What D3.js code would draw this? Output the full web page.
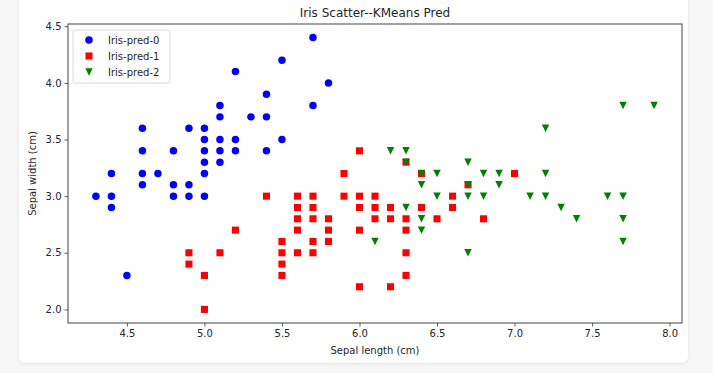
<html>
<head>
<script src="https://d3js.org/d3.v7.min.js"></script>
<style>
body { margin: 0; background: #f6f6f6; }
text { font-family: "DejaVu Sans", sans-serif; fill: #262626; }
</style>
</head>
<body>
<script>

// sepal length / sepal width, one pair per visible marker
var pred0X = [4.3,4.4,4.4,4.4,4.5,4.6,4.6,4.6,4.6,4.7,4.8,4.8,4.8,4.9,4.9,4.9,5.0,5.0,5.0,5.0,5.0,5.0,5.1,5.1,5.1,5.1,5.1,5.2,5.2,5.2,5.3,5.4,5.4,5.4,5.5,5.5,5.7,5.7,5.8];
var pred0Y = [3.0,2.9,3.0,3.2,2.3,3.1,3.2,3.4,3.6,3.2,3.0,3.1,3.4,3.0,3.1,3.6,3.0,3.2,3.3,3.4,3.5,3.6,3.3,3.4,3.5,3.7,3.8,3.4,3.5,4.1,3.7,3.4,3.7,3.9,3.5,4.2,3.8,4.4,4.0];

var pred1X = [4.9,4.9,5.0,5.0,5.1,5.2,5.4,5.5,5.5,5.5,5.5,5.6,5.6,5.6,5.6,5.6,5.7,5.7,5.7,5.7,5.7,5.8,5.8,5.8,5.9,5.9,6.0,6.0,6.0,6.0,6.0,6.1,6.1,6.1,6.2,6.2,6.2,6.3,6.3,6.3,6.3,6.3,6.4,6.4,6.5,6.6,6.6,6.7,6.8,7.0];
var pred1Y = [2.4,2.5,2.0,2.3,2.5,2.7,3.0,2.3,2.4,2.5,2.6,2.5,2.7,2.8,2.9,3.0,2.5,2.6,2.8,2.9,3.0,2.6,2.7,2.8,3.0,3.2,2.2,2.7,2.9,3.0,3.4,2.8,2.9,3.0,2.2,2.8,2.9,2.3,2.5,2.7,2.8,3.3,2.9,3.2,2.8,2.9,3.0,3.1,2.8,3.2];

var pred2X = [6.1,6.2,6.3,6.3,6.3,6.4,6.4,6.4,6.4,6.5,6.5,6.7,6.7,6.7,6.7,6.8,6.8,6.9,6.9,7.1,7.2,7.2,7.2,7.3,7.4,7.6,7.7,7.7,7.7,7.7,7.9];
var pred2Y = [2.6,3.4,2.9,3.3,3.4,2.7,2.8,3.1,3.2,3.0,3.2,2.5,3.0,3.1,3.3,3.0,3.2,3.1,3.2,3.0,3.0,3.2,3.6,2.9,2.8,3.0,2.6,2.8,3.0,3.8,3.8];

var seriesNames = ["Iris-pred-0", "Iris-pred-1", "Iris-pred-2"];
var seriesColors = ["#0000ff", "#ff0000", "#008000"];
var xTicks = [4.5,5.0,5.5,6.0,6.5,7.0,7.5,8.0];
var yTicks = [2.0,2.5,3.0,3.5,4.0,4.5];

var W = 713, H = 373;
var margin = {top: 24, right: 31, bottom: 50, left: 68},
    width = W - margin.left - margin.right,
    height = H - margin.top - margin.bottom;

var x = d3.scaleLinear().domain([4.12, 8.08]).range([0, width]);
var y = d3.scaleLinear().domain([1.88, 4.52]).range([height, 0]);

// matplotlib style "v" marker: width equals height
var triDown = {
  draw: function(ctx, size) {
    var r = Math.sqrt(size) / 2;
    ctx.moveTo(0, r);
    ctx.lineTo(-r, -r);
    ctx.lineTo(r, -r);
    ctx.closePath();
  }
};
var shapes = [d3.symbol().type(d3.symbolCircle).size(44),
              d3.symbol().type(d3.symbolSquare).size(50),
              d3.symbol().type(triDown).size(56)];

var svg = d3.select("body").append("svg")
    .attr("width", W)
    .attr("height", H);

// white card behind the figure
var defs = svg.append("defs");
var f = defs.append("filter").attr("id", "sh").attr("x", "-5%").attr("y", "-5%").attr("width", "110%").attr("height", "110%");
f.append("feDropShadow").attr("dx", 0).attr("dy", 1).attr("stdDeviation", 1.5).attr("flood-color", "#000").attr("flood-opacity", 0.08);
svg.append("rect")
    .attr("x", 19).attr("y", -12)
    .attr("width", 669).attr("height", 375)
    .attr("rx", 7)
    .attr("fill", "#fff")
    .attr("filter", "url(#sh)");

var g = svg.append("g")
    .attr("transform", "translate(" + margin.left + "," + margin.top + ")");

// points
var sets = [[pred0X, pred0Y], [pred1X, pred1Y], [pred2X, pred2Y]];
sets.forEach(function(s, i) {
  g.append("g").selectAll("path")
      .data(d3.range(s[0].length))
    .enter().append("path")
      .attr("d", shapes[i]())
      .attr("transform", function(k) { return "translate(" + x(s[0][k]) + "," + y(s[1][k]) + ")"; })
      .attr("fill", seriesColors[i]);
});

// axes
var xAxis = g.append("g")
    .attr("transform", "translate(0," + height + ")")
    .call(d3.axisBottom(x).tickValues(xTicks).tickFormat(d3.format(".1f")).tickSizeOuter(0).tickSize(3.5).tickPadding(3));
var yAxis = g.append("g")
    .call(d3.axisLeft(y).tickValues(yTicks).tickFormat(d3.format(".1f")).tickSizeOuter(0).tickSize(3.5).tickPadding(3));
[xAxis, yAxis].forEach(function(a) {
  a.select(".domain").remove();
  a.selectAll("line").attr("stroke", "#333").attr("stroke-width", 0.8);
  a.selectAll("text").attr("font-size", 10).attr("fill", "#262626")
    .attr("font-family", "DejaVu Sans, sans-serif");
});

g.append("rect")
    .attr("width", width).attr("height", height)
    .attr("fill", "none")
    .attr("stroke", "#555")
    .attr("stroke-width", 1.1);

// titles
g.append("text")
    .attr("x", width / 2).attr("y", -7)
    .attr("text-anchor", "middle")
    .attr("font-size", 12)
    .text("Iris Scatter--KMeans Pred");
g.append("text")
    .attr("x", width / 2).attr("y", height + 31)
    .attr("text-anchor", "middle")
    .attr("font-size", 10)
    .text("Sepal length (cm)");
g.append("text")
    .attr("transform", "translate(" + (-32) + "," + (height / 2) + ") rotate(-90)")
    .attr("text-anchor", "middle")
    .attr("font-size", 10)
    .text("Sepal width (cm)");

// legend
var leg = g.append("g").attr("transform", "translate(5,6)");
leg.append("rect")
    .attr("width", 97).attr("height", 53)
    .attr("rx", 2)
    .attr("fill", "#fff")
    .attr("stroke", "#d0d0d0")
    .attr("stroke-width", 0.8);
seriesNames.forEach(function(name, i) {
  var row = leg.append("g").attr("transform", "translate(0," + (10 + i * 16) + ")");
  row.append("path")
      .attr("d", shapes[i]())
      .attr("transform", "translate(16,0)")
      .attr("fill", seriesColors[i]);
  row.append("text")
      .attr("x", 35).attr("y", 3.5)
      .attr("font-size", 10)
      .text(name);
});

</script>
</body>
</html>
